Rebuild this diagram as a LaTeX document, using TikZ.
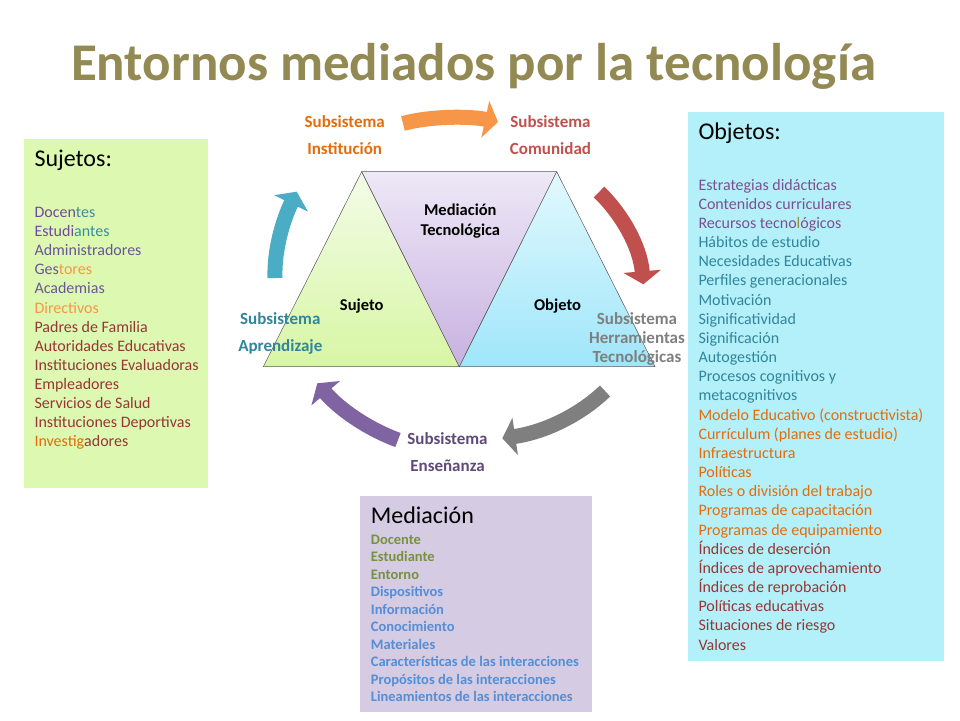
\documentclass[tikz,border=0pt]{standalone}
\usepackage{fontspec}
\setmainfont{Carlito}
\usetikzlibrary{arrows.meta}
\definecolor{titulo}{HTML}{938953}
\definecolor{cajaverde}{HTML}{DDF9B1}
\definecolor{cajacyan}{HTML}{B4F0F9}
\definecolor{cajalila}{HTML}{D5CBE3}
\definecolor{verdearr}{HTML}{F3FCE8}
\definecolor{verdeab}{HTML}{D7F6A4}
\definecolor{lilaarr}{HTML}{EEE8F7}
\definecolor{lilaab}{HTML}{C8B1E0}
\definecolor{cyanarr}{HTML}{E2F9FD}
\definecolor{cyanab}{HTML}{9FE6FA}
\definecolor{morado}{HTML}{6A5694}
\definecolor{moradob}{HTML}{7048A0}
\definecolor{moradoc}{HTML}{7F4F93}
\definecolor{teal2}{HTML}{3C8CA0}
\definecolor{azulv}{HTML}{31859C}
\definecolor{naranja}{HTML}{F79646}
\definecolor{naranjao}{HTML}{E46C0A}
\definecolor{rojo}{HTML}{953735}
\definecolor{rojoc}{HTML}{C0504D}
\definecolor{gris}{HTML}{7F7F7F}
\definecolor{lila}{HTML}{8064A2}
\definecolor{lilao}{HTML}{60497A}
\definecolor{celeste}{HTML}{4BACC6}
\definecolor{olivo}{HTML}{76923C}
\definecolor{azul}{HTML}{558ED5}
\definecolor{dorado}{HTML}{9B8B3C}
\begin{document}
\begin{tikzpicture}[x=1pt,y=-1pt,
  lista/.style={anchor=base west,inner sep=0pt,font=\fontsize{16}{19}\selectfont},
  medlista/.style={anchor=base west,inner sep=0pt,font=\fontsize{14.5}{17}\selectfont\bfseries},
  encabezado/.style={anchor=base west,inner sep=0pt,font=\fontsize{24}{28}\selectfont},
  subsis/.style={anchor=base,inner sep=0pt,align=center,font=\fontsize{17}{27}\selectfont\bfseries},
  tri/.style={draw=black!65,line width=0.5pt},
  ciclo/.style={line width=15pt,-{Triangle[width=37pt,length=13pt]}}]
\useasboundingbox (0,0) rectangle (960,720);
% titulo
\node[anchor=base,inner sep=0pt,text=titulo,font=\fontsize{53}{60}\selectfont\bfseries] (titulo) at (473.5,80) {Entornos mediados por la tecnología};
% cajas
\fill[cajaverde] (24,139) rectangle (208,488);
\fill[cajacyan] (688,112) rectangle (944,661);
\fill[cajalila] (360,496) rectangle (592,712);
% triangulos
\coordinate (bi) at (263.3,366.7);
\coordinate (ai) at (361.7,171.7);
\coordinate (vm) at (459.3,366.7);
\coordinate (ad) at (556.7,171.7);
\coordinate (bd) at (655,366.7);
\draw[tri,top color=verdearr,bottom color=verdeab] (bi) -- (ai) -- (vm) -- cycle;
\draw[tri,top color=lilaarr,bottom color=lilaab] (ai) -- (ad) -- (vm) -- cycle;
\draw[tri,top color=cyanarr,bottom color=cyanab] (vm) -- (ad) -- (bd) -- cycle;
\node[font=\fontsize{16.5}{19.3}\selectfont\bfseries,inner sep=0pt,anchor=base] (sujeto) at (361.7,310) {Sujeto};
\node[font=\fontsize{16.5}{19.3}\selectfont\bfseries,inner sep=0pt,anchor=base] (objeto) at (557.5,310) {Objeto};
\node[font=\fontsize{16.5}{19.3}\selectfont\bfseries,inner sep=0pt,anchor=base,align=center] (mediacion) at (460.3,235) {Mediación\\Tecnológica};
% flechas del ciclo
\coordinate (o1) at (403,123.5); \coordinate (o2) at (498,122);
\coordinate (r1) at (599,192); \coordinate (r2) at (643.3,284.3);
\coordinate (g1) at (605,391); \coordinate (g2) at (502.3,438.3);
\coordinate (l1) at (398,440); \coordinate (l2) at (317.3,383.3);
\coordinate (c1) at (275,278); \coordinate (c2) at (296.7,191.7);
\draw[ciclo,naranja] (o1) .. controls (430,116) and (470,116) .. (o2);
\draw[ciclo,rojoc] (r1) .. controls (620,212) and (640,245) .. (r2);
\draw[ciclo,gris] (g1) .. controls (580,415) and (545,432) .. (g2);
\draw[ciclo,lila] (l1) .. controls (370,430) and (340,410) .. (l2);
\draw[ciclo,celeste] (c1) .. controls (274,250) and (283,220) .. (c2);
% subsistemas
\node[subsis,text=naranjao] (institucion) at (344.7,154) {Subsistema\\Institución};
\node[subsis,text=rojoc] (comunidad) at (550.5,154) {Subsistema\\Comunidad};
\node[subsis,text=azulv] (aprendizaje) at (280.3,351) {Subsistema\\Aprendizaje};
\node[subsis,text=gris,font=\fontsize{17}{19}\selectfont\bfseries] (herramientas) at (637,362.7) {Subsistema\\Herramientas\\Tecnológicas};
\node[subsis,text=lilao] (ensenanza) at (447.5,471.7) {Subsistema\\Enseñanza};
% Sujetos
\node[encabezado] (sujetos) at (34.3,166.7) {Sujetos:};
\foreach \txt [count=\i] in {{\color{moradob}Docen\color{teal2}tes},{\color{moradob}Estudi\color{teal2}antes},
  {\color{morado}Administradores},{\color{morado}Ges\color{naranja}tores},{\color{morado}Academias},
  {\color{naranja}Directivos},{\color{rojo}Padres de Familia},{\color{rojo}Autoridades Educativas},
  {\color{rojo}Instituciones Evaluadoras},{\color{rojo}Empleadores},{\color{rojo}Servicios de Salud},
  {\color{rojo}Instituciones Deportivas},{\color{naranjao}Investig\color{rojo}adores}}
  \node[lista] (suj\i) at (34.3,{217.5+19.1*(\i-1)}) {\txt};
% Objetos
\node[encabezado] (objetos) at (698.3,139.3) {Objetos:};
\foreach \txt [count=\i] in {{\color{moradoc}Estrategias didácticas},{\color{moradoc}Contenidos curriculares},
  {\color{moradoc}Recursos tecno\color{dorado}l\color{moradoc}ógicos},
  {\color{azulv}Hábitos de estudio},{\color{azulv}Necesidades Educativas},{\color{azulv}Perfiles generacionales},
  {\color{azulv}Motivación},{\color{azulv}Significatividad},{\color{azulv}Significación},{\color{azulv}Autogestión},
  {\color{azulv}Procesos cognitivos y},{\color{azulv}metacognitivos},
  {\color{naranjao}Modelo Educativo (constructivista)},{\color{naranjao}Currículum (planes de estudio)},
  {\color{naranjao}Infraestructura},{\color{naranjao}Políticas},{\color{naranjao}Roles o división del trabajo},
  {\color{naranjao}Programas de capacitación},{\color{naranjao}Programas de equipamiento},
  {\color{rojo}Índices de deserción},{\color{rojo}Índices de aprovechamiento},{\color{rojo}Índices de reprobación},
  {\color{rojo}Políticas educativas},{\color{rojo}Situaciones de riesgo},{\color{rojo}Valores}}
  \node[lista] (obj\i) at (698.3,{190+19.17*(\i-1)}) {\txt};
% Mediacion
\node[encabezado] (mediaciontit) at (370.7,523.3) {Mediación};
\foreach \txt [count=\i] in {{\color{olivo}Docente},{\color{olivo}Estudiante},{\color{olivo}Entorno},
  {\color{azul}Dispositivos},{\color{azul}Información},{\color{azul}Conocimiento},{\color{azul}Materiales},
  {\color{azul}Características de las interacciones},{\color{azul}Propósitos de las interacciones},
  {\color{azul}Lineamientos de las interacciones}}
  \node[medlista] (med\i) at (370.7,{544+17.52*(\i-1)}) {\txt};
\end{tikzpicture}
\end{document}
